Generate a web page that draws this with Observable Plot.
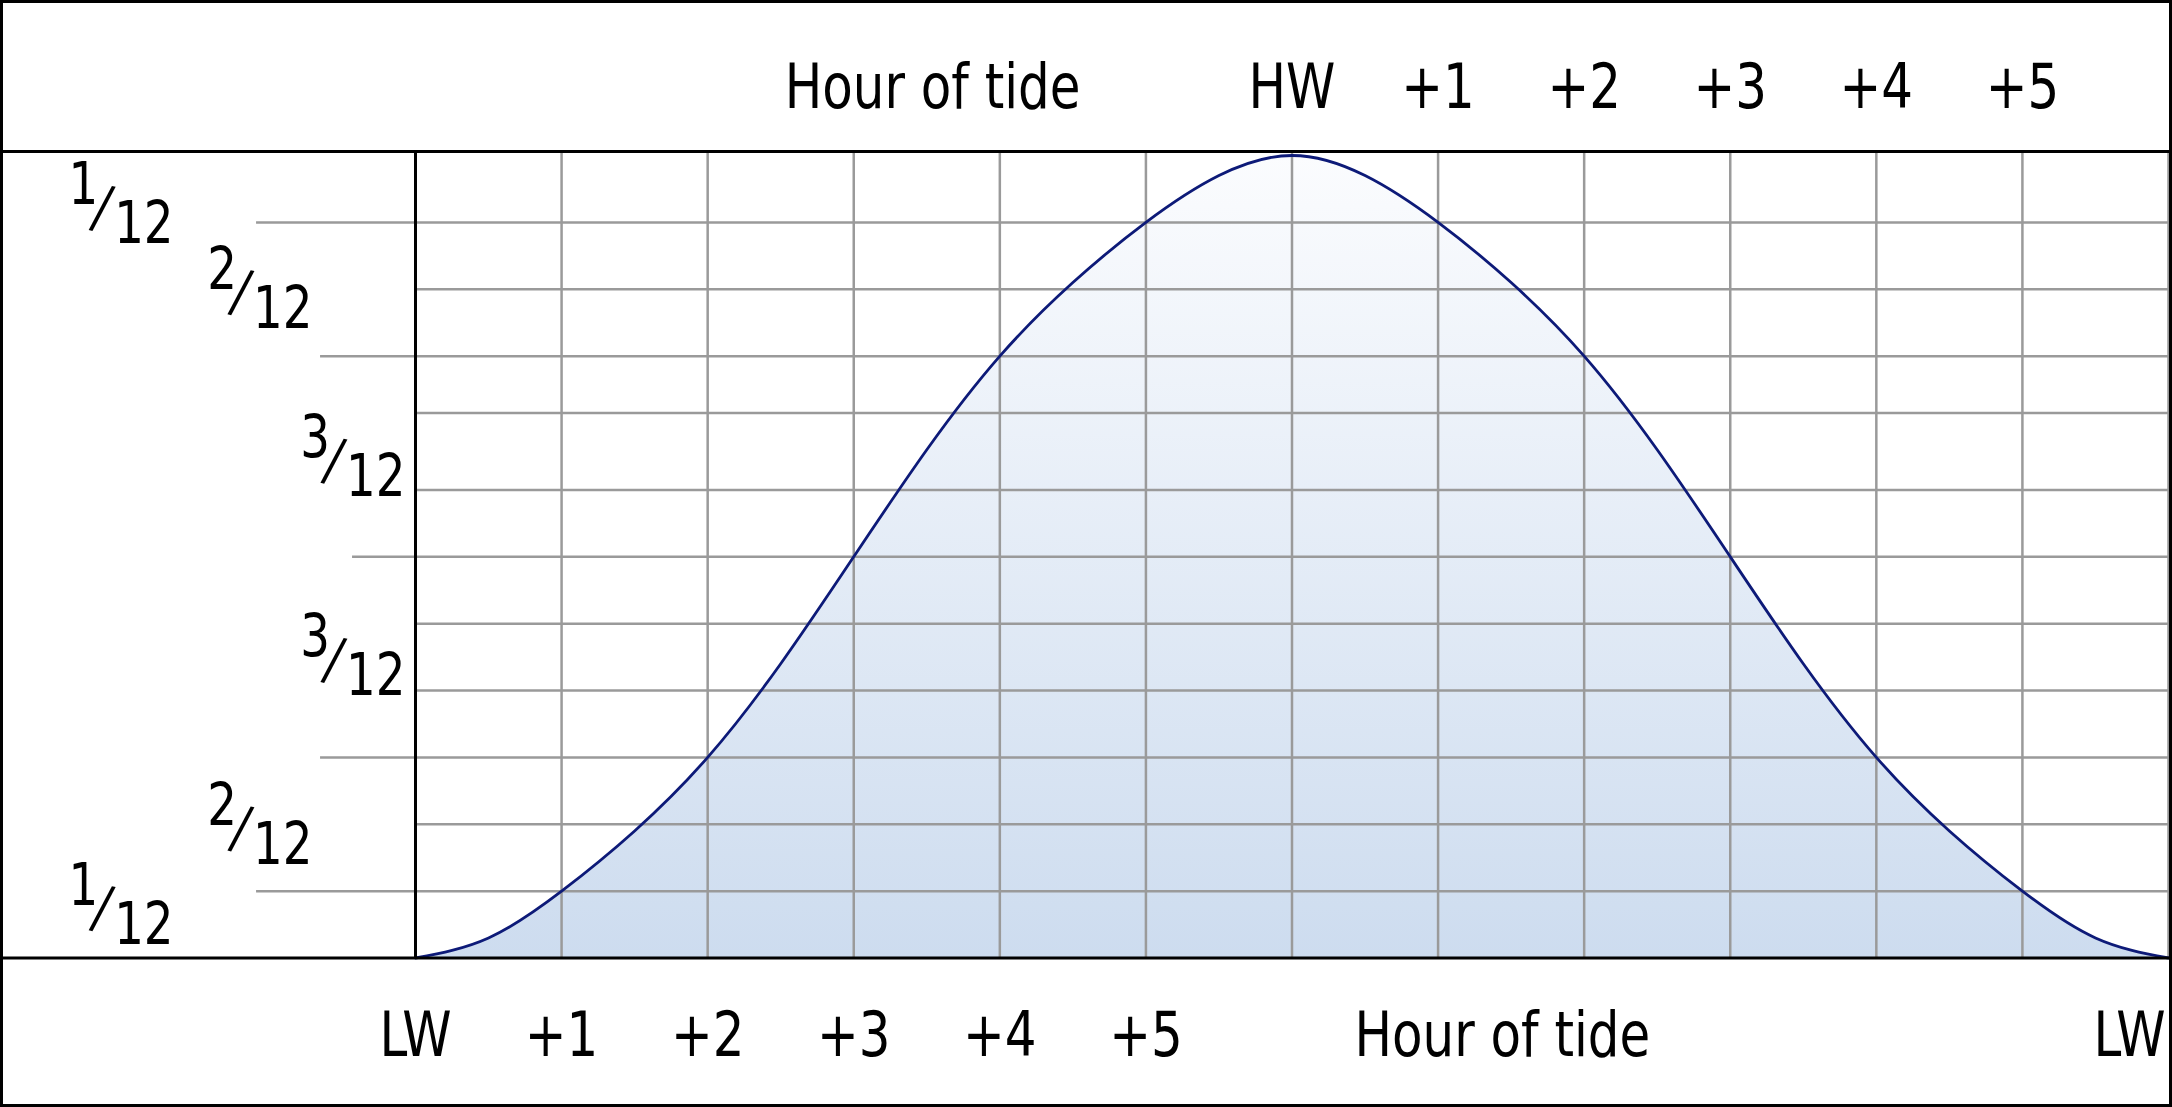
<!DOCTYPE html>
<html>
<head>
<meta charset="utf-8">
<script src="https://cdn.jsdelivr.net/npm/d3@7"></script>
<script src="https://cdn.jsdelivr.net/npm/@observablehq/plot@0.6"></script>
<style>
  html, body { margin: 0; padding: 0; background: #fff; }
  #chart svg { display: block; outline: 3px solid #000; outline-offset: -3px; }
</style>
</head>
<body>
<div id="chart"></div>
<script>
// ---- data ----
// Tide height in twelfths of the range, at half-hour steps, LW -> HW -> LW
const hours  = [0, 0.5, 1, 1.5, 2, 2.5, 3, 3.5, 4, 4.5, 5, 5.5, 6, 6.5, 7, 7.5, 8, 8.5, 9, 9.5, 10, 10.5, 11, 11.5, 12];
const level  = [0, 0.3, 1, 1.9, 3, 4.4, 6, 7.6, 9, 10.1, 11, 11.7, 12, 11.7, 11, 10.1, 9, 7.6, 6, 4.4, 3, 1.9, 1, 0.3, 0];

// Rule of twelfths: fraction per interval, top to bottom
const fractionNumerators = ["1", "2", "3", "3", "2", "1"];
const fractionDenominator = "12";
const fractionAt = [11.21, 9.95, 7.43, 4.45, 1.93, 0.74];   // vertical anchor (twelfths)
const fractionHour = [-2.145, -1.195, -0.558, -0.558, -1.195, -2.145]; // horizontal anchor (hours)

// Horizontal grid lines (twelfths) and the cumulative boundaries that reach into the margin
const gridLevels = [1, 2, 3, 4, 5, 6, 7, 8.15, 9, 10, 11];
const boundaryLevels = [1, 3, 6, 9, 11];
const boundaryFrom = [-1.088, -0.65, -0.431, -0.65, -1.088];

// Vertical grid lines (hours)
const gridHours = [1, 2, 3, 4, 5, 6, 7, 8, 9, 10, 11, 12];

// Tick labels
const topTickHours = [6, 7, 8, 9, 10, 11];
const topTickLabels = ["HW", "+1", "+2", "+3", "+4", "+5"];
const bottomTickHours = [0, 1, 2, 3, 4, 5];
const bottomTickLabels = ["LW", "+1", "+2", "+3", "+4", "+5"];
const endTickHour = [12];
const endTickLabel = ["LW"];
const axisTitle = "Hour of tide";
const topTitleHour = [3.54];
const bottomTitleHour = [7.44];

// ---- build ----
const curve = hours.map((h, i) => ({hour: h, level: level[i]}));
const fractions = fractionNumerators.map((n, i) => ({num: n, den: fractionDenominator, y: fractionAt[i], x: fractionHour[i]}));
const boundaries = boundaryLevels.map((b, i) => ({y: b, from: boundaryFrom[i]}));

const W = 2172, H = 1107;
const mL = 415, mR = 4, mT = 151, mB = 149.5;
const font = "'Liberation Sans Narrow', 'DejaVu Sans Condensed', 'Roboto Condensed', sans-serif";
const gridColor = "#9a9a9a";
const labelSize = 63, fracSize = 59;
const labelSqueeze = 0.88, fracSqueeze = 0.84;

const defs = () => {
  const d = d3.create("svg:defs");
  const g = d.append("linearGradient").attr("id", "tideFill")
    .attr("x1", 0).attr("y1", 0).attr("x2", 0).attr("y2", 1);
  g.append("stop").attr("offset", "0%").attr("stop-color", "#fbfcfe");
  g.append("stop").attr("offset", "100%").attr("stop-color", "#cddcef");
  return d.node();
};

const lab = {lineAnchor: "bottom", fontSize: labelSize, fill: "#000", ariaLabel: "label"};
const frac = {x: "x", y: "y", fontSize: fracSize, fill: "#000", ariaLabel: "fraction"};

const chart = Plot.plot({
  width: W,
  height: H,
  marginLeft: mL, marginRight: mR, marginTop: mT, marginBottom: mB,
  x: {domain: [0, 12], axis: null},
  y: {domain: [0, 12], range: [H - mB, 155], axis: null},
  style: {fontFamily: font, background: "#fff", color: "#000"},
  marks: [
    defs,
    Plot.areaY(curve, {x: "hour", y: "level", curve: "natural", fill: "url(#tideFill)"}),
    Plot.ruleY(gridLevels, {stroke: gridColor, strokeWidth: 2.5}),
    Plot.ruleY(boundaries, {y: "y", x1: "from", x2: 0, stroke: gridColor, strokeWidth: 2.5}),
    Plot.ruleX(gridHours, {stroke: gridColor, strokeWidth: 2.5}),
    Plot.lineY(curve, {x: "hour", y: "level", curve: "natural", stroke: "#0d1a78", strokeWidth: 2.8}),
    Plot.ruleX([0], {stroke: "#000", strokeWidth: 3}),
    Plot.frame({anchor: "top", insetLeft: -mL, insetRight: -mR, stroke: "#000", strokeWidth: 3}),
    Plot.frame({anchor: "bottom", insetLeft: -mL, insetRight: -mR, stroke: "#000", strokeWidth: 3}),
    // top labels
    Plot.text(topTickLabels, {...lab, x: (d, i) => topTickHours[i], text: d => d, frameAnchor: "top", dy: -44}),
    Plot.text([axisTitle], {...lab, x: (d, i) => topTitleHour[i], text: d => d, frameAnchor: "top", dy: -44}),
    // bottom labels
    Plot.text(bottomTickLabels, {...lab, x: (d, i) => bottomTickHours[i], text: d => d, frameAnchor: "bottom", dy: 97.5}),
    Plot.text(endTickLabel, {...lab, x: (d, i) => endTickHour[i], text: d => d, frameAnchor: "bottom", textAnchor: "end", dx: -3, dy: 97.5}),
    Plot.text([axisTitle], {...lab, x: (d, i) => bottomTitleHour[i], text: d => d, frameAnchor: "bottom", dy: 97.5}),
    // fractions
    Plot.text(fractions, {...frac, text: "num", textAnchor: "end", lineAnchor: "bottom", dx: -4, dy: -4}),
    Plot.text(fractions, {...frac, text: () => "/", textAnchor: "middle", lineAnchor: "middle", rotate: 14}),
    Plot.text(fractions, {...frac, text: "den", textAnchor: "start", lineAnchor: "bottom", dx: 12, dy: 35})
  ]
});

// condense the glyphs horizontally (the original uses a condensed typeface)
chart.querySelectorAll("g[aria-label] text").forEach(t => {
  const k = t.parentNode.getAttribute("aria-label") === "fraction" ? fracSqueeze : labelSqueeze;
  const tr = t.getAttribute("transform");
  if (tr) {
    t.setAttribute("transform", `${tr} scale(${k},1)`);
  } else {
    const x = +(t.getAttribute("x") || 0);
    t.removeAttribute("x");
    t.setAttribute("transform", `translate(${x},0) scale(${k},1)`);
  }
});
document.getElementById("chart").appendChild(chart);
</script>
</body>
</html>
